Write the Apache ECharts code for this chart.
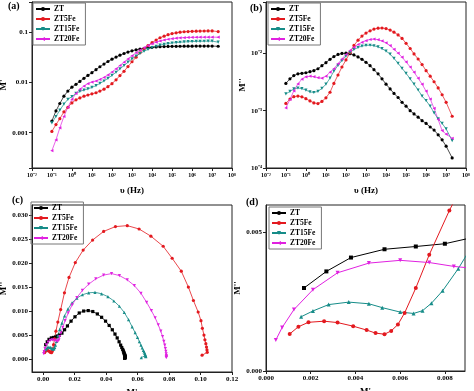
<!DOCTYPE html>
<html><head><meta charset="utf-8">
<script src="https://cdn.jsdelivr.net/npm/echarts@6/dist/echarts.min.js"></script>
<style>html,body{margin:0;padding:0;background:#fff}#c{width:474px;height:391px}</style>
</head><body><div id="c"></div>
<script>
// ---- data ----
const seriesNames = ['ZT', 'ZT5Fe', 'ZT15Fe', 'ZT20Fe'];
const freq = [0.1,0.16,0.25,0.4,0.63,1,1.6,2.5,4,6.3,10,16,25,40,63,100,160,250,400,630,1e3,1.6e3,2.5e3,4e3,6.3e3,1e4,1.6e4,2.5e4,4e4,6.3e4,1e5,1.6e5,2.5e5,4e5,6.3e5,1e6,1.6e6,2.5e6,4e6,6.3e6,1e7,2e7];

// M' (real part of modulus)
const mReal_ZT = [0.0017,0.0027,0.0038,0.0053,0.0067,0.0080,0.0091,0.0104,0.0120,0.0137,0.0155,0.0178,0.0203,0.0230,0.0258,0.0287,0.0316,0.0345,0.0372,0.0397,0.0420,0.0440,0.0457,0.0471,0.0483,0.0493,0.0500,0.0506,0.0510,0.0513,0.0515,0.0517,0.0518,0.0519,0.0520,0.0520,0.0521,0.0521,0.0521,0.0521,0.0521,0.0518];
const mReal_ZT5Fe = [0.00106,0.00145,0.0019,0.0026,0.0032,0.0039,0.0045,0.0049,0.0053,0.0056,0.0059,0.0062,0.0067,0.0073,0.0082,0.0094,0.0112,0.0136,0.0165,0.0205,0.0255,0.0315,0.0385,0.0460,0.0535,0.0610,0.0685,0.0763,0.0820,0.0878,0.0923,0.0955,0.0985,0.1003,0.1012,0.1022,0.1028,0.1034,0.1038,0.1041,0.1043,0.1010];
const mReal_ZT15Fe = [0.00157,0.0021,0.0028,0.0037,0.0046,0.0052,0.0060,0.0066,0.0070,0.0074,0.0079,0.0086,0.0095,0.0106,0.0120,0.0137,0.0158,0.0184,0.0215,0.0250,0.0290,0.0330,0.0372,0.0412,0.0450,0.0485,0.0516,0.0543,0.0566,0.0585,0.0600,0.0612,0.0622,0.0630,0.0637,0.0642,0.0646,0.0649,0.0651,0.0652,0.0653,0.0624];
const mReal_ZT20Fe = [0.00044,0.00072,0.00125,0.0021,0.0032,0.0046,0.0060,0.0073,0.0084,0.0094,0.0101,0.0106,0.0114,0.0125,0.0140,0.0160,0.0185,0.0215,0.0250,0.0290,0.0335,0.0385,0.0435,0.0485,0.0535,0.0580,0.0622,0.0658,0.0688,0.0712,0.0732,0.0748,0.0759,0.0767,0.0773,0.0777,0.0780,0.0782,0.0783,0.0784,0.0784,0.0782];

// M'' (imaginary part of modulus)
const mImag_ZT = [0.0030,0.0036,0.0041,0.0044,0.0045,0.0046,0.0048,0.0050,0.0054,0.0061,0.0069,0.0079,0.0088,0.0096,0.0100,0.0101,0.0099,0.0094,0.0087,0.0079,0.0070,0.0061,0.0052,0.0044,0.0036,0.0029,0.0024,0.0020,0.0017,0.0014,0.0012,0.0010,0.00088,0.00077,0.00067,0.00060,0.00052,0.00046,0.00038,0.00031,0.00024,0.00015];
const mImag_ZT5Fe = [0.00134,0.00160,0.00176,0.00180,0.00175,0.00162,0.00148,0.00137,0.00133,0.00145,0.00168,0.0021,0.0030,0.0042,0.0058,0.0077,0.0103,0.0138,0.0170,0.0201,0.0227,0.0248,0.0266,0.0276,0.0278,0.0271,0.0256,0.0235,0.0210,0.0183,0.0150,0.0122,0.0098,0.0080,0.0064,0.0050,0.0040,0.0032,0.0025,0.0019,0.0014,0.0008];
const mImag_ZT15Fe = [0.00196,0.00217,0.0024,0.00249,0.00243,0.00229,0.00213,0.00208,0.00218,0.00245,0.0029,0.0037,0.0049,0.0062,0.0075,0.0090,0.0104,0.0117,0.0127,0.0134,0.0138,0.0139,0.0136,0.0130,0.0121,0.0110,0.0097,0.0082,0.0067,0.0055,0.0045,0.0036,0.0029,0.0023,0.0018,0.0015,0.0012,0.00092,0.00072,0.0006,0.00048,0.0003];
const mImag_ZT20Fe = [0.00112,0.00157,0.00222,0.00294,0.00355,0.0039,0.0040,0.00392,0.00378,0.0037,0.0040,0.0047,0.0054,0.0066,0.0080,0.0096,0.0113,0.0128,0.0143,0.0156,0.0167,0.0175,0.0178,0.0174,0.0165,0.0153,0.0137,0.0118,0.0101,0.0086,0.0071,0.0058,0.0047,0.0037,0.0029,0.0022,0.0016,0.0011,0.0007,0.00045,0.00039,0.00033];

// tick labels
const freqTickLabels = ['10⁻²','10⁻¹','10⁰','10¹','10²','10³','10⁴','10⁵','10⁶','10⁷','10⁸']; // exponents -2..8
const mRealLogTickLabels = ['0.001','0.01','0.1'];   // exponents -3..-1
const mImagLogTickLabels = ['10⁻⁴','10⁻³','10⁻²'];   // exponents -4..-2
const panelLabels = ['(a)','(b)','(c)','(d)'];

// ---- chart ----
const FONT = 'Liberation Serif';
const colors = ['#000000', '#e3191f', '#168c88', '#e021e0'];
const mRealList = [mReal_ZT, mReal_ZT5Fe, mReal_ZT15Fe, mReal_ZT20Fe];
const mImagList = [mImag_ZT, mImag_ZT5Fe, mImag_ZT15Fe, mImag_ZT20Fe];
const symAB = ['circle', 'circle', 'triangle', 'triangle'];
const rotAB = [0, 0, 180, 90];
const symCD = ['rect', 'circle', 'triangle', 'triangle'];
const rotCD = [0, 0, 0, 180];

function logFmt(labels, offset) {
  return function (v) {
    const e = Math.log10(v), r = Math.round(e);
    if (Math.abs(e - r) > 0.012) return '';
    const s = labels[r + offset];
    return s === undefined ? '' : s;
  };
}

const labelStyle = { fontFamily: FONT, fontWeight: 'bold', fontSize: 7, color: '#000', margin: 4 };
const nameStyle = { fontFamily: FONT, fontWeight: 'bold', fontSize: 9, color: '#000' };
const lineAx = { show: true, onZero: false, lineStyle: { color: '#222', width: 1 } };
const tickAx = { show: true, length: 3, lineStyle: { color: '#222' } };

function ax(extra) {
  return Object.assign({
    axisLine: lineAx, axisTick: tickAx, splitLine: { show: false },
    nameLocation: 'middle', nameTextStyle: nameStyle
  }, extra);
}

const grids = [
  { left: 32, top: 2, width: 200, height: 166 },
  { left: 266, top: 2, width: 200, height: 166 },
  { left: 32, top: 205, width: 200, height: 167 },
  { left: 266, top: 205, width: 199, height: 166 }
].map(g => Object.assign({ show: true, borderColor: '#222', borderWidth: 1, containLabel: false, outerBoundsMode: 'none' }, g));

const xAxes = [
  ax({ type: 'log', gridIndex: 0, min: 0.0102, max: 9.8e7, splitNumber: 10, name: 'υ (Hz)', nameGap: 18,
       axisLabel: Object.assign({}, labelStyle, { formatter: logFmt(freqTickLabels, 2), fontSize: 6 }) }),
  ax({ type: 'log', gridIndex: 1, min: 0.0102, max: 9.8e7, splitNumber: 10, name: 'υ (Hz)', nameGap: 18,
       axisLabel: Object.assign({}, labelStyle, { formatter: logFmt(freqTickLabels, 2), fontSize: 6 }) }),
  ax({ type: 'value', gridIndex: 2, min: -0.007, max: 0.12, splitNumber: 6, name: "M'", nameGap: 16,
       axisLabel: Object.assign({}, labelStyle, { showMinLabel: false, formatter: v => v.toFixed(2) }) }),
  ax({ type: 'value', gridIndex: 3, min: 0, max: 0.0089, interval: 0.002, name: "M'", nameGap: 16,
       axisLabel: Object.assign({}, labelStyle, { showMaxLabel: false, formatter: v => v.toFixed(3) }) })
];
const yAxes = [
  ax({ type: 'log', gridIndex: 0, min: 0.0002, max: 0.39, name: "M'", nameGap: 21, nameRotate: 90,
       axisLabel: Object.assign({}, labelStyle, { formatter: logFmt(mRealLogTickLabels, 3) }) }),
  ax({ type: 'log', gridIndex: 1, min: 0.0001, max: 0.079, name: "M''", nameGap: 18, nameRotate: 90,
       axisLabel: Object.assign({}, labelStyle, { formatter: logFmt(mImagLogTickLabels, 4) }) }),
  ax({ type: 'value', gridIndex: 2, min: -0.0027, max: 0.0321, splitNumber: 7, name: "M''", nameGap: 21, nameRotate: 90,
       axisLabel: Object.assign({}, labelStyle, { showMinLabel: false, showMaxLabel: false, formatter: v => v.toFixed(3) }) }),
  ax({ type: 'value', gridIndex: 3, min: 0, max: 0.006, interval: 0.005, name: "M''", nameGap: 12, nameRotate: 90,
       axisLabel: Object.assign({}, labelStyle, { showMaxLabel: false, formatter: v => v.toFixed(3) }) })
];

const series = [];
seriesNames.forEach((n, k) => {
  const c = colors[k];
  const base = { type: 'line', name: n, itemStyle: { color: c }, silent: true, animation: false };
  series.push(Object.assign({}, base, {
    xAxisIndex: 0, yAxisIndex: 0, symbol: symAB[k], symbolRotate: rotAB[k], symbolSize: 3.2,
    lineStyle: { color: c, width: 0.7 }, data: freq.map((f, i) => [f, mRealList[k][i]])
  }));
  series.push(Object.assign({}, base, {
    xAxisIndex: 1, yAxisIndex: 1, symbol: symAB[k], symbolRotate: rotAB[k], symbolSize: 3.2,
    lineStyle: { color: c, width: 0.7 }, data: freq.map((f, i) => [f, mImagList[k][i]])
  }));
  series.push(Object.assign({}, base, {
    xAxisIndex: 2, yAxisIndex: 2, symbol: symCD[k], symbolRotate: rotCD[k], symbolSize: 3.2,
    lineStyle: { color: c, width: 0.8 }, data: mRealList[k].map((m, i) => [m, mImagList[k][i]])
  }));
  series.push(Object.assign({}, base, {
    xAxisIndex: 3, yAxisIndex: 3, symbol: symCD[k], symbolRotate: rotCD[k], symbolSize: 4,
    lineStyle: { color: c, width: 1 }, clip: true, data: mRealList[k].map((m, i) => [m, mImagList[k][i]])
  }));
});

const legendBase = {
  orient: 'vertical', data: seriesNames, itemWidth: 14, itemHeight: 5, itemGap: 2,
  padding: [2, 6, 2, 2], borderColor: '#777', borderWidth: 1, selectedMode: false,
  textStyle: { fontFamily: FONT, fontWeight: 'bold', fontSize: 7.5, color: '#000', padding: [0, 0, 0, -1] }
};
const legends = [
  { left: 33, top: 3 }, { left: 268, top: 3 }, { left: 31, top: 202 }, { left: 269, top: 207 }
].map(p => Object.assign({}, legendBase, p));

const labelPos = [[8, 1], [250, 3], [12, 195], [246, 197]];
const graphic = panelLabels.map((t, i) => ({
  type: 'text', left: labelPos[i][0], top: labelPos[i][1],
  style: { text: t, fontFamily: FONT, fontWeight: 'bold', fontSize: 10, fill: '#000' }
}));

const chart = echarts.init(document.getElementById('c'), null, { renderer: 'canvas' });
chart.setOption({
  animation: false,
  backgroundColor: '#fff',
  grid: grids, xAxis: xAxes, yAxis: yAxes, series: series, legend: legends, graphic: graphic
});
</script>
</body></html>
